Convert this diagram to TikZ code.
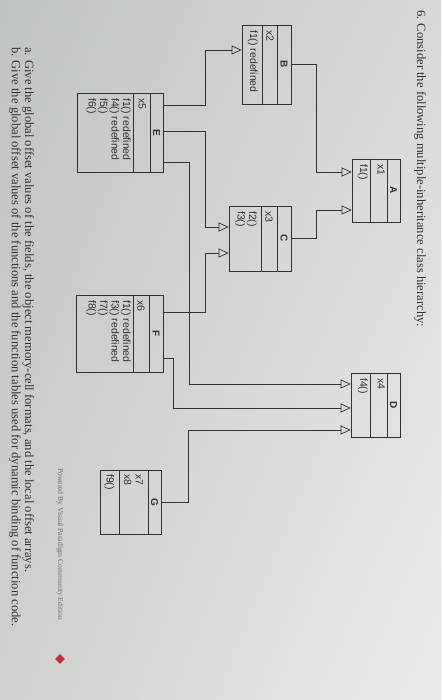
\documentclass[tikz,border=0pt]{standalone}
\usepackage{fontspec}
\setmainfont{Liberation Serif}
\setsansfont{Liberation Sans}
\usetikzlibrary{arrows.meta,shadings}
\definecolor{ink}{RGB}{50,50,50}
\definecolor{vpred}{RGB}{200,45,60}
\definecolor{pageUL}{RGB}{192,196,192}
\definecolor{pageUR}{RGB}{214,217,213}
\definecolor{pageLL}{RGB}{206,209,205}
\definecolor{pageLR}{RGB}{233,236,233}

\begin{document}
\begin{tikzpicture}[x=1pt,y=-1pt,
    umlbox/.style={draw=ink,line width=0.7pt,inner sep=0pt},
    sep/.style={draw=ink,line width=0.7pt},
    cname/.style={rotate=-90,inner sep=0pt,text=ink,font=\sffamily\bfseries\fontsize{10}{12}\selectfont},
    member/.style={rotate=-90,anchor=north west,align=left,inner sep=0pt,text=ink,font=\sffamily\fontsize{10.5}{11.5}\selectfont},
    inherit/.style={draw=ink,line width=0.7pt,-{Triangle[open,length=10pt,width=9pt]}},
    question/.style={rotate=-90,anchor=base west,inner sep=0pt,text=ink,font=\fontsize{12.6}{14}\selectfont}]
   % page
   \shade[upper left=pageUL,upper right=pageUR,lower left=pageLL,lower right=pageLR]
          (0,0) rectangle (441,700);
   \useasboundingbox (0,0) rectangle (441,700);

   % classes
   \node[umlbox,minimum width=48pt,minimum height=63pt] (A) at (376,190.5) {};
   \draw[sep] ([xshift=11pt]A.north) -- ([xshift=11pt]A.south);
   \draw[sep] ([xshift=-6pt]A.north) -- ([xshift=-6pt]A.south);
   \node[cname] (A-name) at (393.5,190.5) {A};
   \node[member] (A-attr) at (385,164) {x1};
   \node[member] (A-ops) at (368,164) {f1()};

   \node[umlbox,minimum width=49pt,minimum height=79pt] (B) at (266.5,64.5) {};
   \draw[sep] ([xshift=10.5pt]B.north) -- ([xshift=10.5pt]B.south);
   \draw[sep] ([xshift=-4.5pt]B.north) -- ([xshift=-4.5pt]B.south);
   \node[cname] (B-name) at (284,64.5) {B};
   \node[member] (B-attr) at (274,30) {x2};
   \node[member] (B-ops) at (258,30) {f1() redefined};

   \node[umlbox,minimum width=62pt,minimum height=65pt] (C) at (260,238.5) {};
   \draw[sep] ([xshift=17pt]C.north) -- ([xshift=17pt]C.south);
   \draw[sep] ([xshift=1pt]C.north) -- ([xshift=1pt]C.south);
   \node[cname] (C-name) at (284,238.5) {C};
   \node[member] (C-attr) at (273,211) {x3};
   \node[member] (C-ops) at (257,211) {f2()\\f3()};

   \node[umlbox,minimum width=49pt,minimum height=64pt] (D) at (375.5,405) {};
   \draw[sep] ([xshift=11.5pt]D.north) -- ([xshift=11.5pt]D.south);
   \draw[sep] ([xshift=-5.5pt]D.north) -- ([xshift=-5.5pt]D.south);
   \node[cname] (D-name) at (393.5,405) {D};
   \node[member] (D-attr) at (385,378) {x4};
   \node[member] (D-ops) at (368,378) {f4()};

   \node[umlbox,minimum width=86pt,minimum height=79pt] (E) at (120,132.5) {};
   \draw[sep] ([xshift=30pt]E.north) -- ([xshift=30pt]E.south);
   \draw[sep] ([xshift=13pt]E.north) -- ([xshift=13pt]E.south);
   \node[cname] (E-name) at (156.5,132.5) {E};
   \node[member] (E-attr) at (146,98) {x5};
   \node[member] (E-ops) at (131,98) {f1() redefined\\f4() redefined\\f5()\\f6()};

   \node[umlbox,minimum width=87pt,minimum height=77pt] (F) at (119.5,333.5) {};
   \draw[sep] ([xshift=29.5pt]F.north) -- ([xshift=29.5pt]F.south);
   \draw[sep] ([xshift=13.5pt]F.north) -- ([xshift=13.5pt]F.south);
   \node[cname] (F-name) at (156,333.5) {F};
   \node[member] (F-attr) at (145,300) {x6};
   \node[member] (F-ops) at (131,300) {f1() redefined\\f3() redefined\\f7()\\f8()};

   \node[umlbox,minimum width=61pt,minimum height=64pt] (G) at (130.5,502) {};
   \draw[sep] ([xshift=17.5pt]G.north) -- ([xshift=17.5pt]G.south);
   \draw[sep] ([xshift=-11.5pt]G.north) -- ([xshift=-11.5pt]G.south);
   \node[cname] (G-name) at (154.5,502) {G};
   \node[member] (G-attr) at (143,474) {x7\\x8};
   \node[member] (G-ops) at (114.5,474) {f9()};

   % generalizations
   \draw[inherit] (B.east) -- ++(25,0) |- ([yshift=18.5pt]A.west);
   \draw[inherit] (C.east) -- ++(25,0) |- ([yshift=-19.5pt]A.west);
   \draw[inherit] ([yshift=27.5pt]E.east) -- ++(42,0) |- ([yshift=14.5pt]B.west);
   \draw[inherit] ([yshift=1.5pt]E.east) -- ++(42,0) |- ([yshift=11.5pt]C.west);
   \draw[inherit] ([yshift=-29.5pt]E.east) -- ++(26,0) |- ([yshift=21pt]D.west);
   \draw[inherit] ([yshift=21.5pt]F.east) -- ++(42,0) |- ([yshift=-14.5pt]C.west);
   \draw[inherit] ([yshift=-24.5pt]F.east) -- ++(10,0) |- ([yshift=-3pt]D.west);
   \draw[inherit] (G.east) -- ++(27,0) |- ([yshift=-25pt]D.west);

   % text of the page
   \node[question] (title) at (417,10) {6. Consider the following multiple-inheritance class hierarchy:};
   \node[question] (qa) at (25,47) {a. Give the global offset values of the fields, the object memory-cell formats, and the local offset arrays.};
   \node[question] (qb) at (12,47) {b. Give the global offset values of the functions and the function tables used for dynamic binding of function code.};
   \node[rotate=-90,anchor=west,inner sep=0pt,text=ink!70,font=\fontsize{7.6}{9}\selectfont] (powered) at (60,468) {Powered By Visual Paradigm Community Edition};
   \node[rotate=45,fill=vpred,inner sep=0pt,minimum size=7pt] (logo) at (60,659) {};
\end{tikzpicture}
\end{document}
